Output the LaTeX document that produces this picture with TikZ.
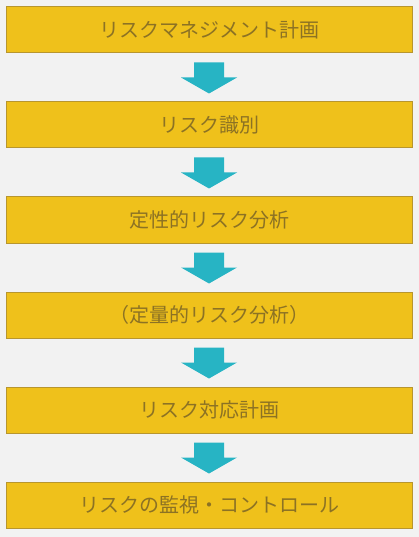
\documentclass[tikz,border=0pt]{standalone}
\usepackage{fontspec}
\newfontfamily\jp{Noto Sans CJK JP}
\definecolor{bg}{HTML}{F2F2F2}
\definecolor{boxfill}{HTML}{EFC11B}
\definecolor{boxline}{HTML}{B8962E}
\definecolor{boxtext}{HTML}{8C7224}
\definecolor{arrowc}{HTML}{27B4C4}
\tikzset{
  stepbox/.style={draw=boxline, line width=1pt, fill=boxfill, minimum width=406pt, minimum height=46pt, inner sep=0pt, text=boxtext, font=\jp\fontsize{20}{22}\selectfont, anchor=center},
  downarrow/.style={fill=arrowc, draw=none}
}
\begin{document}
\begin{tikzpicture}[x=1pt,y=-1pt]
\fill[bg] (0,0) rectangle (419,537);
\useasboundingbox (0,0) rectangle (419,537);
\node[stepbox] (s1) at (209,30) {リスクマネジメント計画};
\node[stepbox] (s2) at (209,125) {リスク識別};
\node[stepbox] (s3) at (209,220) {定性的リスク分析};
\node[stepbox] (s4) at (209,315) {（定量的リスク分析）};
\node[stepbox] (s5) at (209,410) {リスク対応計画};
\node[stepbox] (s6) at (209,505) {リスクの監視・コントロール};
\foreach \a/\b in {s1/s2,s2/s3,s3/s4,s4/s5,s5/s6}{
  \fill[downarrow] ([shift={(-15,9)}]\a.south) -- ([shift={(15,9)}]\a.south) -- ([shift={(15,24)}]\a.south) -- ([shift={(28,24)}]\a.south) -- ([shift={(0,-8)}]\b.north) -- ([shift={(-28,24)}]\a.south) -- ([shift={(-15,24)}]\a.south) -- cycle;
}
\end{tikzpicture}
\end{document}
